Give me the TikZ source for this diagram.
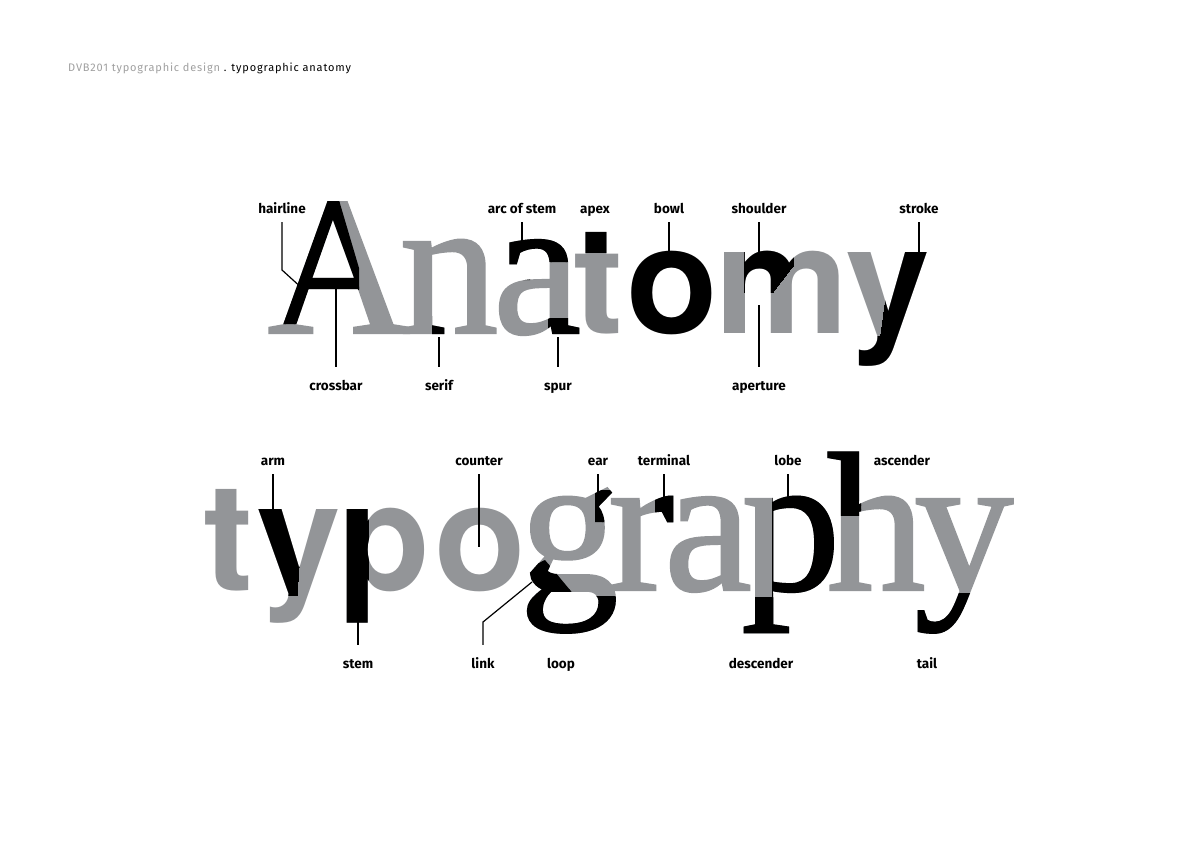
\documentclass[tikz,border=0pt]{standalone}
\usepackage{fontspec}
\newfontfamily\serifface{Liberation Serif}[FakeBold=1.2]
\newfontfamily\sansface{TeX Gyre Heros}
\newfontfamily\lblface{Fira Sans}
\newfontfamily\hdrface{Fira Sans}[LetterSpace=7.5]
\newcommand\serifbig{\serifface\fontsize{198pt}{198pt}\selectfont}
\newcommand\sansbig{\sansface\bfseries\fontsize{150pt}{150pt}\selectfont}
\newcommand\lblfont{\lblface\bfseries\fontsize{13.5pt}{14pt}\selectfont}
\newcommand\hdrfont{\hdrface\fontsize{11pt}{12pt}\selectfont}
\definecolor{glyphgrey}{HTML}{939598}
\definecolor{hdrgrey}{HTML}{A0A0A0}
\tikzset{
  serifL/.style={font=\serifbig, inner sep=0pt, anchor=base, text=glyphgrey},
  sansL/.style={font=\sansbig, inner sep=0pt, anchor=base, text=glyphgrey},
  inked/.style={text=black},
  toplbl/.style={font=\lblfont, anchor=base, inner xsep=1pt, inner ysep=6pt, text depth=3pt, text height=10pt},
  botlbl/.style={font=\lblfont, anchor=base, inner xsep=1pt, inner ysep=13pt, text depth=3pt, text height=10pt},
  leader/.style={draw=black, line width=1.2pt},
}
\begin{document}
\begin{tikzpicture}[x=1pt,y=-1pt]
\useasboundingbox[fill=white] (0,0) rectangle (1200,849);
% header
\node[font=\hdrfont, anchor=base west, inner sep=0pt] (header) at (68,71)
  {{\color{hdrgrey}DVB201 typographic design} . typographic anatomy};

% ---------------- Row 1: Anatomy ----------------
\node[serifL] (A) at (339,333) {A};
\begin{scope}
  \clip (250,190) -- (336,190) -- (359,268) -- (359,290) -- (335,290) -- (335,324) -- (250,324) -- cycle;
  \node[serifL,inked] (A-ink) at (339,333) {A};
\end{scope}
\node[serifL] (n) at (449,333) {n};
\begin{scope}
  \clip (432,316) rectangle (452,340);
  \node[serifL,inked] (n-ink) at (449,333) {n};
\end{scope}
\node[serifL] (a1) at (537,333) {a};
\begin{scope}
  \clip (495,232) -- (585,232) -- (585,262) -- (530,262) -- (530,280) -- (495,280) -- cycle
        (548,318) rectangle (592,345);
  \node[serifL,inked] (a1-ink) at (537,333) {a};
\end{scope}
\node[sansL] (t1) at (598,333) {t};
\begin{scope}
  \clip (575,220) rectangle (618,252);
  \node[sansL,inked] (t1-ink) at (598,333) {t};
\end{scope}
\node[sansL,inked] (o1) at (672,333) {o};
\node[sansL] (m) at (782,333) {m};
\begin{scope}
  \clip (744,240) -- (793,240) -- (793,266) -- (773,292) -- (744,292) -- cycle;
  \node[sansL,inked] (m-ink) at (782,333) {m};
\end{scope}
\node[sansL] (y1) at (888,333) {y};
\begin{scope}
  \clip (893,240) -- (960,240) -- (960,380) -- (820,380) -- (820,336) -- (880,336) -- cycle;
  \node[sansL,inked] (y1-ink) at (888,333) {y};
\end{scope}

% ---------------- Row 2: typography ----------------
\node[sansL] (t2) at (228,590) {t};
\node[sansL] (y2) at (299,590) {y};
\begin{scope}
  \clip (250,500) -- (312,500) -- (299,567) -- (297,595) -- (250,595) -- cycle;
  \node[sansL,inked] (y2-ink) at (299,590) {y};
\end{scope}
\node[sansL] (p2) at (384.5,590) {p};
\begin{scope}
  \clip (340,495) rectangle (368,630);
  \node[sansL,inked] (p2-ink) at (384.5,590) {p};
\end{scope}
\node[sansL] (o2) at (480,590) {o};
\node[serifL] (g) at (569,590) {g};
\begin{scope}
  \clip (595,490) rectangle (625,522) (515,575) -- (545,560) -- (575,596) -- (625,596) -- (625,660) -- (515,660) -- cycle;
  \node[serifL,inked] (g-ink) at (569,590) {g};
\end{scope}
\node[serifL] (r) at (641,590) {r};
\begin{scope}
  \clip (655,490) rectangle (680,530);
  \node[serifL,inked] (r-ink) at (641,590) {r};
\end{scope}
\node[serifL] (a2) at (708,590) {a};
\node[serifL] (p3) at (791,590) {p};
\begin{scope}
  \clip (772,490) -- (850,490) -- (850,660) -- (730,660) -- (730,597) -- (772,597) -- cycle;
  \node[serifL,inked] (p3-ink) at (791,590) {p};
\end{scope}
\node[serifL] (h) at (876,590) {h};
\begin{scope}
  \clip (815,440) rectangle (861,515);
  \node[serifL,inked] (h-ink) at (876,590) {h};
\end{scope}
\node[serifL] (y3) at (964,590) {y};
\begin{scope}
  \clip (900,593) rectangle (1015,660);
  \node[serifL,inked] (y3-ink) at (964,590) {y};
\end{scope}

% ---------------- Labels ----------------
\node[toplbl] (hairline) at (282,213) {hairline};
\node[toplbl] (arcofstem) at (522,213) {arc of stem};
\node[toplbl] (apex) at (595,213) {apex};
\node[toplbl] (bowl) at (669,213) {bowl};
\node[toplbl] (shoulder) at (759,213) {shoulder};
\node[toplbl] (stroke) at (919,213) {stroke};
\node[botlbl] (crossbar) at (336,390) {crossbar};
\node[botlbl] (serif) at (439,390) {serif};
\node[botlbl] (spur) at (558,390) {spur};
\node[botlbl] (aperture) at (759,390) {aperture};

\node[toplbl] (arm) at (273,465) {arm};
\node[toplbl] (counter) at (479,465) {counter};
\node[toplbl] (ear) at (598,465) {ear};
\node[toplbl] (terminal) at (664,465) {terminal};
\node[toplbl] (lobe) at (788,465) {lobe};
\node[toplbl] (ascender) at (902,465) {ascender};
\node[botlbl] (stem) at (358,668) {stem};
\node[botlbl] (link) at (483,668) {link};
\node[botlbl] (loop) at (561,668) {loop};
\node[botlbl] (descender) at (761,668) {descender};
\node[botlbl] (tail) at (927,668) {tail};

% leader end points
\coordinate (hairline-knee) at (282,270);
\coordinate (hairline-end) at (304,290);
\coordinate (arcofstem-end) at (522,244);
\coordinate (bowl-end) at (669,252);
\coordinate (shoulder-end) at (759,252);
\coordinate (stroke-end) at (919,254);
\coordinate (crossbar-end) at (336,284);
\coordinate (serif-end) at (439,337);
\coordinate (spur-end) at (558,337);
\coordinate (aperture-end) at (759,305);
\coordinate (arm-end) at (273,511);
\coordinate (counter-end) at (479,547);
\coordinate (ear-end) at (598,502);
\coordinate (terminal-end) at (664,500);
\coordinate (lobe-end) at (788,500);
\coordinate (stem-end) at (358,621);
\coordinate (link-knee) at (483,622);
\coordinate (link-end) at (532,582);

\draw[leader] (hairline.south) -- (hairline-knee) -- (hairline-end);
\draw[leader] (arcofstem.south) -- (arcofstem-end);
\draw[leader] (bowl.south) -- (bowl-end);
\draw[leader] (shoulder.south) -- (shoulder-end);
\draw[leader] (stroke.south) -- (stroke-end);
\draw[leader] (crossbar.north) -- (crossbar-end);
\draw[leader] (serif.north) -- (serif-end);
\draw[leader] (spur.north) -- (spur-end);
\draw[leader] (aperture.north) -- (aperture-end);
\draw[leader] (arm.south) -- (arm-end);
\draw[leader] (counter.south) -- (counter-end);
\draw[leader] (ear.south) -- (ear-end);
\draw[leader] (terminal.south) -- (terminal-end);
\draw[leader] (lobe.south) -- (lobe-end);
\draw[leader] (stem.north) -- (stem-end);
\draw[leader] (link.north) -- (link-knee) -- (link-end);
\end{tikzpicture}
\end{document}
